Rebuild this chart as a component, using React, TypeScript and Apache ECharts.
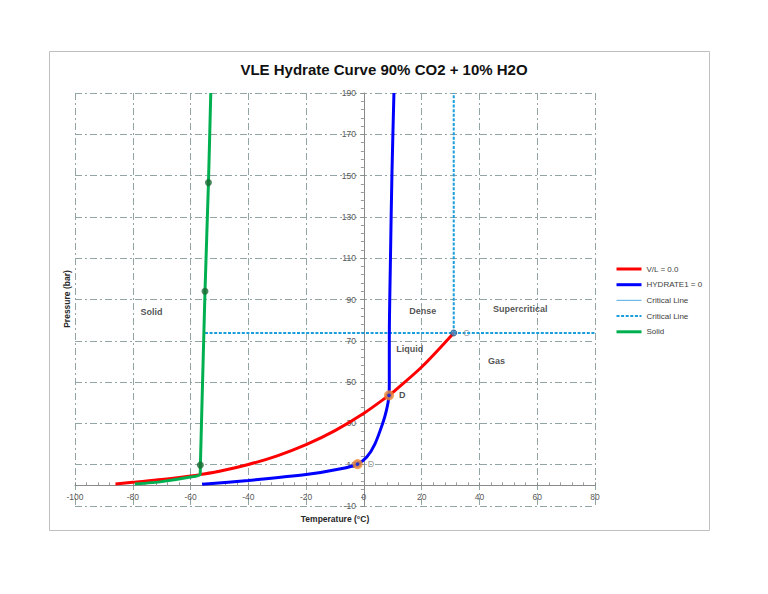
import { useEffect, useRef } from "react";
import * as echarts from "echarts";

// Phase envelope of a 90% CO2 + 10% H2O mixture (temperature °C, pressure bar)
const titleText = "VLE Hydrate Curve 90% CO2 + 10% H2O";

// Vapour / liquid boundary (sublimation below the triple point, boiling curve up to C)
const vlT = [-86, -80, -70, -60, -56.6, -50, -40, -30, -20, -10, 0, 8.7, 10, 20, 31.1];
const vlP = [0.7, 1.5, 2.8, 4.5, 5.2, 6.8, 10.1, 14.3, 19.7, 26.5, 34.9, 43.6, 45.0, 57.3, 73.8];

// Hydrate formation curve
const hydT = [-56, -40, -20, -8, -2.2, 1, 3.8, 6.5, 7.8, 8.7, 8.8, 8.8, 9.2, 9.7, 10.4];
const hydP = [0.5, 2.4, 5.2, 8.0, 10.3, 13.7, 20, 30, 36.3, 43.6, 50, 70, 110, 150, 190];

// Solid boundary (sublimation branch then melting line)
const solidT = [-79.3, -70, -60, -56.7, -56.6, -55.0, -53.8, -53.0];
const solidP = [0.6, 1.8, 4.0, 5.2, 9.8, 94, 146.6, 190];
const solidDotIdx = [4, 5, 6];

// Critical pressure / temperature lines
const critHorizT = [-55, 80];
const critHorizP = [73.8, 73.8];
const critVertT = [31.1, 31.1];
const critVertP = [73.8, 190];

// Highlighted points
const pointNames = ["D", "D", "C"];
const pointT = [-2.2, 8.7, 31.1];
const pointP = [10.3, 43.6, 73.8];

// Phase region labels
const regionNames = ["Solid", "Dense", "Supercritical", "Liquid", "Gas"];
const regionT = [-73.5, 20.4, 54.1, 15.9, 45.9];
const regionP = [83.9, 84.4, 85.2, 65.9, 60.0];

// Axis ranges
const tempMin = -100;
const tempMax = 80;
const tempStep = 20;
const presMin = -10;
const presMax = 190;
const presStep = 20;

const legendNames = ["V/L = 0.0", "HYDRATE1 = 0", "Critical Line", "Critical Line ", "Solid"];

const FONT = "'Liberation Sans', Arial, sans-serif";
const zip = (xs: number[], ys: number[]) => xs.map((x, i) => [x, ys[i]]);

// Plot rectangle
const GRID = { left: 75, top: 93, width: 520, height: 413 };

const gridLine = {
  show: true,
  lineStyle: { color: "#92a4a4", width: 1, type: [7, 3, 2, 3] as number[] },
};

export default function App() {
  const ref = useRef<HTMLDivElement>(null);

  useEffect(() => {
    if (!ref.current) return;
    const chart = echarts.init(ref.current, undefined, { renderer: "svg" });

    // Axes cross at the origin: shift each axis from the grid edge to the other axis' zero
    const xAxisShift = -((0 - presMin) / (presMax - presMin)) * GRID.height;
    const yAxisShift = -((0 - tempMin) / (tempMax - tempMin)) * GRID.width;

    const axisCommon = {
      type: "value" as const,
      axisLine: { show: true, onZero: false, lineStyle: { color: "#8a8a8a", width: 1 } },
      axisTick: { show: true, length: 3, lineStyle: { color: "#8a8a8a" } },
      minorTick: { show: true, splitNumber: 5, length: 3, lineStyle: { color: "#9a9a9a" } },
      splitLine: gridLine,
      minorSplitLine: { show: false },
    };

    const option: any = {
      animation: false,
      backgroundColor: "#ffffff",
      textStyle: { fontFamily: FONT },
      title: {
        text: titleText,
        left: "center",
        top: 62,
        padding: 0,
        textStyle: { fontSize: 15, fontWeight: "bold", color: "#111111", fontFamily: FONT },
      },
      grid: { ...GRID, containLabel: false, outerBoundsMode: "none" },
      legend: {
        orient: "vertical",
        left: 615,
        top: 265,
        padding: 0,
        itemWidth: 25,
        itemHeight: 10,
        itemGap: 7.7,
        selectedMode: false,
        itemStyle: { opacity: 0 },
        textStyle: { fontSize: 8, color: "#404040", fontFamily: FONT },
        data: [
          { name: legendNames[0], lineStyle: { width: 3 } },
          { name: legendNames[1], lineStyle: { width: 3 } },
          { name: legendNames[2], lineStyle: { width: 1.2 } },
          { name: legendNames[3], lineStyle: { width: 2 } },
          { name: legendNames[4], lineStyle: { width: 3 } },
        ],
      },
      xAxis: {
        ...axisCommon,
        position: "bottom",
        offset: xAxisShift,
        min: tempMin,
        max: tempMax,
        interval: tempStep,
        axisTick: { ...axisCommon.axisTick, inside: true },
        axisLabel: { fontSize: 8.5, color: "#595959", margin: 7, fontFamily: FONT },
        name: "Temperature (°C)",
        nameLocation: "middle",
        nameGap: 29,
        nameTextStyle: { fontSize: 8.5, fontWeight: "bold", color: "#262626", fontFamily: FONT },
      },
      yAxis: {
        ...axisCommon,
        position: "left",
        offset: yAxisShift,
        min: presMin,
        max: presMax,
        interval: presStep,
        axisLabel: { fontSize: 8.5, color: "#595959", margin: 8, fontFamily: FONT },
      },
      graphic: [
        {
          type: "rect",
          shape: { x: 49.5, y: 51.5, width: 660, height: 479 },
          style: { fill: "none", stroke: "#bfbfbf", lineWidth: 1 },
          silent: true,
        },
        {
          type: "text",
          x: 67,
          y: 299,
          rotation: Math.PI / 2,
          style: {
            text: "Pressure (bar)",
            align: "center",
            verticalAlign: "middle",
            fontSize: 8.5,
            fontWeight: "bold",
            fill: "#262626",
            fontFamily: FONT,
          },
          silent: true,
        },
      ],
      series: [
        {
          name: legendNames[0],
          type: "line",
          data: zip(vlT, vlP),
          smooth: 0.3,
          symbol: "none",
          color: "#ff0000",
          lineStyle: { color: "#ff0000", width: 3 },
          z: 3,
        },
        {
          name: legendNames[1],
          type: "line",
          data: zip(hydT, hydP),
          smooth: 0.3,
          symbol: "none",
          color: "#0000ff",
          lineStyle: { color: "#0000ff", width: 3 },
          z: 4,
        },
        {
          name: legendNames[2],
          type: "line",
          data: [],
          symbol: "none",
          color: "#6cb8e6",
          lineStyle: { color: "#6cb8e6", width: 1.2 },
        },
        {
          name: legendNames[3],
          type: "line",
          data: zip(critHorizT, critHorizP),
          symbol: "none",
          color: "#1a9ddc",
          lineStyle: { color: "#1a9ddc", width: 2, type: [3, 1.6] },
          z: 2,
        },
        {
          name: legendNames[3],
          type: "line",
          data: zip(critVertT, critVertP),
          symbol: "none",
          color: "#1a9ddc",
          lineStyle: { color: "#1a9ddc", width: 2, type: [3, 1.6] },
          z: 2,
        },
        {
          name: legendNames[4],
          type: "line",
          data: zip(solidT, solidP),
          smooth: 0.2,
          symbol: "none",
          color: "#00b050",
          lineStyle: { color: "#00b050", width: 3 },
          z: 3,
        },
        {
          name: "solid-points",
          type: "scatter",
          data: solidDotIdx.map((i) => [solidT[i], solidP[i]]),
          symbol: "circle",
          symbolSize: 7,
          itemStyle: { color: "#1d6a34" },
          silent: true,
          z: 6,
        },
        {
          name: "phase-points",
          type: "scatter",
          silent: true,
          z: 7,
          data: pointNames.map((n, i) => {
            const isCrit = n === "C";
            return {
              name: n,
              value: [pointT[i], pointP[i]],
              symbolSize: isCrit ? 6 : 7,
              itemStyle: isCrit
                ? { color: "#4a8fc6", borderColor: "#274f7a", borderWidth: 1 }
                : { color: "#2a3cc8", borderColor: "#f28a35", borderWidth: 3.2 },
              label: {
                show: true,
                position: "right",
                distance: i === 2 ? 6 : 5,
                formatter: n,
                fontSize: 9,
                fontFamily: FONT,
                fontWeight: i === 1 ? "bold" : "normal",
                color: i === 1 ? "#1a1a1a" : "#7f7f7f",
              },
            };
          }),
        },
        {
          name: "regions",
          type: "scatter",
          silent: true,
          symbol: "circle",
          symbolSize: 0,
          itemStyle: { color: "rgba(0,0,0,0)" },
          data: regionNames.map((n, i) => ({ name: n, value: [regionT[i], regionP[i]] })),
          label: {
            show: true,
            position: "inside",
            formatter: (p: any) => p.name,
            fontSize: 9,
            fontWeight: "bold",
            color: "#262626",
            fontFamily: FONT,
          },
          z: 8,
        },
      ],
    };

    chart.setOption(option);
    return () => chart.dispose();
  }, []);

  return (
    <div
      ref={ref}
      style={{ position: "fixed", left: 0, top: 0, width: 768, height: 594, background: "#fff" }}
    />
  );
}
